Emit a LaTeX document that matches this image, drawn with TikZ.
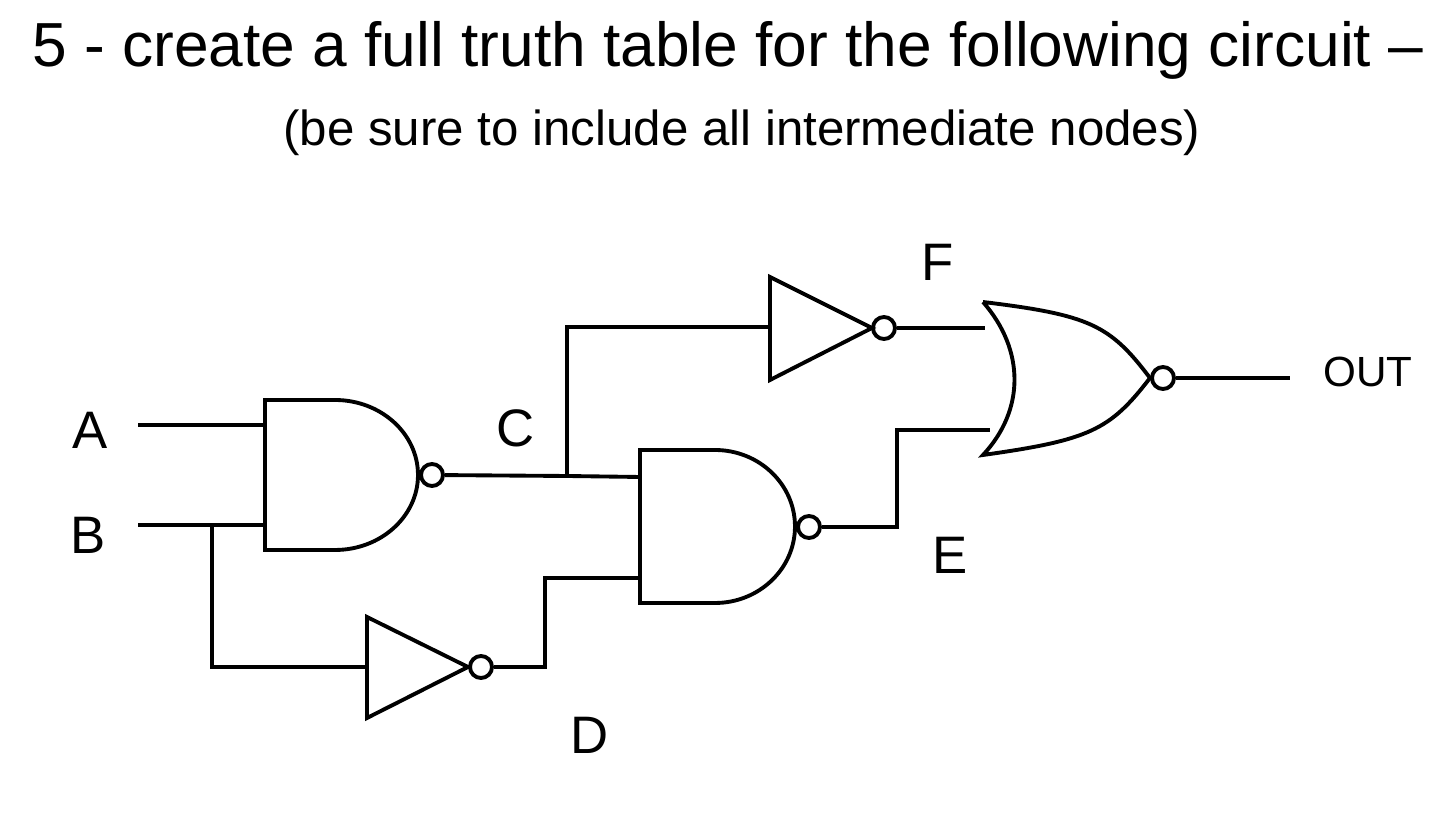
\documentclass[tikz,border=0pt]{standalone}
\usepackage{fontspec}
\setmainfont{Liberation Sans}
\begin{document}
\begin{tikzpicture}[x=0.01cm,y=-0.01cm,line width=1.1pt,
  bub/.style={circle,draw,line width=1.1pt,minimum size=0.22cm,inner sep=0pt},
  lbl/.style={font=\fontsize{15}{18}\selectfont}]
\useasboundingbox (0,0) rectangle (1456,822);
\node (title) at (728,50) {\fontsize{17.7}{21}\selectfont 5 - create a full truth table for the following circuit --};
\node (sub) at (742,133) {\fontsize{14}{17}\selectfont (be sure to include all intermediate nodes)};
% pins
\coordinate (a) at (138,425);
\coordinate (b) at (138,525);
\coordinate (bj) at (212,525);
\coordinate (bd) at (212,667);
\coordinate (cj) at (567,476);
\coordinate (ct) at (567,327);
\coordinate (dj) at (545,667);
\coordinate (dt) at (545,578);
\coordinate (ej) at (897,527);
\coordinate (et) at (897,430);
\coordinate (out) at (1290,378);
% nand 1
\draw (265,400) -- (335,400) arc[start angle=-90,end angle=90,x radius=83,y radius=75] -- (265,550) -- cycle;
\node[bub] (n1) at (432,475) {};
% nand 2
\draw (640,450) -- (715,450) arc[start angle=-90,end angle=90,x radius=80,y radius=76.5] -- (640,603) -- cycle;
\node[bub] (n2) at (809,527) {};
% not D
\draw (367,617) -- (468,667) -- (367,718) -- cycle;
\node[bub] (nd) at (481,667) {};
% not F
\draw (770,277) -- (872,328) -- (770,380) -- cycle;
\node[bub] (nf) at (884,328) {};
% nor
\draw (983,302) .. controls (1025,350) and (1025,410) .. (983,455)
  .. controls (1090,440) and (1110,430) .. (1150,378)
  .. controls (1110,325) and (1090,315) .. (983,302);
\node[bub] (no) at (1163,378) {};
% wires
\draw (a) -- (265,425);
\draw (b) -- (265,525);
\draw (bj) -- (bd) -- (367,667);
\draw (n1) -- (cj) -- (640,477);
\draw (cj) -- (ct) -- (770,327);
\draw (nd) -- (dj) -- (dt) -- (640,578);
\draw (n2) -- (ej) -- (et) -- (990,430);
\draw (nf) -- (985,328);
\draw (no) -- (out);
% labels
\node[lbl] (la) at (90,430) {A};
\node[lbl] (lb) at (88,535) {B};
\node[lbl] (lc) at (516,428) {C};
\node[lbl] (ld) at (590,735) {D};
\node[lbl] (le) at (950,555) {E};
\node[lbl] (lf) at (938,262) {F};
\node (lo) at (1368,372) {\fontsize{12}{14}\selectfont OUT};
\end{tikzpicture}
\end{document}
